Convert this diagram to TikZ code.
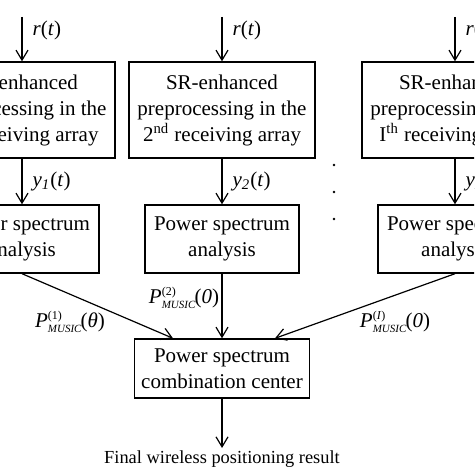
\documentclass[tikz,border=0pt]{standalone}
\usepackage{fontspec}
\usepackage{amsmath}
\setmainfont{Liberation Serif}
\usetikzlibrary{arrows.meta}
\tikzset{
  block/.style={
      draw,
      rectangle,
      line width=0.7pt,
      align=center,
      font=\fontsize{10.5}{13}\selectfont,
  },
  rxbox/.style={block, minimum width=93pt, minimum height=48pt},
  psbox/.style={block, minimum width=77pt, minimum height=34pt},
  combox/.style={block, minimum width=84.5pt, minimum height=29.5pt},
  sig/.style={font=\fontsize{10.5}{13}\selectfont, inner sep=1pt}
}
\newcommand{\pmusic}[2]{\textit{P}$^{\text{\fontsize{6}{6}\selectfont #1}}_{\text{\fontsize{5.5}{6}\selectfont\textit{MUSIC}}}$\kern-1pt(\textit{#2})}

\begin{document}
\begin{tikzpicture}[x=0.5pt,y=-0.5pt,line width=0.6pt,
  >={Straight Barb[length=5pt,width=6pt]}]
    \useasboundingbox (0,0) rectangle (474,474);
    \clip (0,0) rectangle (474,474);
    % receiving arrays
    \node[rxbox] (rx1) at (22,110) {SR-enhanced\\preprocessing in the\\1\textsuperscript{st} receiving array};
    \node[rxbox] (rx2) at (222,110) {SR-enhanced\\preprocessing in the\\2\textsuperscript{nd} receiving array};
    \node[rxbox] (rxI) at (455,110) {SR-enhanced\\preprocessing in the\\I\textsuperscript{th} receiving array};
    % spectrum analysis
    \node[psbox] (ps1) at (22,239) {Power spectrum\\analysis};
    \node[psbox] (ps2) at (222,239) {Power spectrum\\analysis};
    \node[psbox] (psI) at (455,239) {Power spectrum\\analysis};
    % combination
    \node[combox] (comb) at (222,368.5) {Power spectrum\\combination center};
    \node[sig, anchor=north, font=\fontsize{9.2}{11}\selectfont] (final) at (222,448) {Final wireless positioning result};
    % inputs
    \coordinate (in1) at (22,17);
    \coordinate (in2) at (222,17);
    \coordinate (inI) at (455,17);
    \draw[->] (in1) -- node[sig, pos=0.3, right=4pt] {\textit{r}(\textit{t})} (rx1);
    \draw[->] (in2) -- node[sig, pos=0.3, right=4pt] {\textit{r}(\textit{t})} (rx2);
    \draw[->] (inI) -- node[sig, pos=0.3, right=4pt] {\textit{r}(\textit{t})} (rxI);
    \draw[->] (rx1) -- node[sig, midway, right=4pt] {\textit{y}$_{\textit{1}}$(\textit{t})} (ps1);
    \draw[->] (rx2) -- node[sig, midway, right=4pt] {\textit{y}$_{\textit{2}}$(\textit{t})} (ps2);
    \draw[->] (rxI) -- node[sig, midway, right=4pt] {\textit{y}$_{\textit{I}}$(\textit{t})} (psI);
    % dots
    \foreach \y in {165,192,219}
        \fill (334,\y) circle (1.3);
    % spectra to center
    \draw[->] (ps1.south) -- ([xshift=-24.5pt]comb.north);
    \draw[->] (ps2.south) -- (comb.north);
    \draw[->] (psI.south) -- ([xshift=26.5pt]comb.north);
    \node[sig] (pm1) at (70,322) {\pmusic{(1)}{θ}};
    \node[sig] (pm2) at (184,298) {\pmusic{(2)}{0}};
    \node[sig] (pmI) at (395,322) {\pmusic{(\textit{I})}{0}};
    \draw[->] (comb) -- (final);
\end{tikzpicture}
\end{document}
